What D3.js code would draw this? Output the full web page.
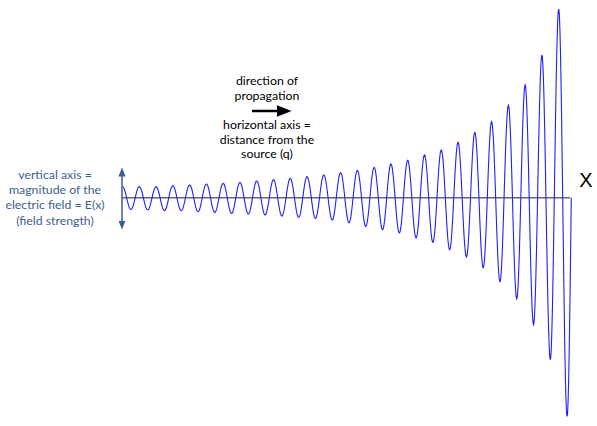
<!DOCTYPE html>
<html><head><meta charset="utf-8">
<script src="https://cdn.jsdelivr.net/npm/d3@7"></script>
<style>body{margin:0;background:#fff}</style></head>
<body><svg id="c" width="597" height="426"></svg>
<script>
// Extremum positions are in wave periods (peak k at t=k, trough k at t=k-0.5)
const peakT = d3.range(-1, 26);            // peaks t=-1..25
const peakAmp = [11,11,11,12,12.7,13.7,14.3,15.3,16.7,18,19.3,21,22.7,25,27.3,30.3,33.7,37.3,42.7,47.7,55.3,65.3,76,92.3,112.7,142.7,188.7];
const troughAmp = [11.7,12.3,13,13,14,14.7,15.7,16.3,17.3,18.3,19.7,20.7,22.3,25,28.7,32,35.3,40.3,44.7,52,59.3,70,84,101,127,162,218.7];
const texts = {
  left: ["vertical axis =","magnitude of the","electric field = E(x)","(field strength)"],
  mid1: ["direction of","propagation"],
  mid2: ["horizontal axis =","distance from the","source (q)"]
};
const svg = d3.select("#c");
const x = d3.scaleLinear().domain([0,25]).range([139.3,558.7]);
const y = d3.scaleLinear().domain([0,100]).range([197.7,97.7]);
const ext = [];
peakT.forEach((t,i)=>{ ext.push({t, v: peakAmp[i]}); if(i<troughAmp.length) ext.push({t:t+0.5, v:-troughAmp[i]}); });
const pts=[];
const tStart=-1.03;
for(let i=0;i<ext.length-1;i++){
  const a=ext[i], b=ext[i+1];
  for(let s=0;s<=20;s++){
    const f=s/20, t=a.t+(b.t-a.t)*f;
    if(t<tStart) continue;
    const w=(1-Math.cos(Math.PI*f))/2;
    pts.push([x(t),y(a.v*(1-w)+b.v*w)]);
  }
}
// final quarter: rise from last trough back to the axis
const last=ext[ext.length-1];
for(let s=1;s<=12;s++){const f=s/12; pts.push([x(last.t+0.25*f), y(last.v*Math.cos(Math.PI/2*f))]);}
svg.append("line").attr("x1",x(tStart)).attr("x2",570).attr("y1",y(0)).attr("y2",y(0)).attr("stroke","#666").attr("stroke-width",1.5);
svg.append("path").attr("d",d3.line()(pts)).attr("fill","none").attr("stroke","#1f1fff").attr("stroke-width",1.1);
const defs=svg.append("defs");
function mk(id,col){defs.append("marker").attr("id",id).attr("viewBox","0 0 10 10").attr("refX",5).attr("refY",5).attr("markerWidth",6).attr("markerHeight",6).attr("orient","auto-start-reverse").append("path").attr("d","M0,1L10,5L0,9Z").attr("fill",col);}
mk("ab","#3c5f90"); mk("ak","#000");
svg.append("line").attr("x1",122).attr("x2",122).attr("y1",172).attr("y2",225).attr("stroke","#3c5f90").attr("stroke-width",1.5).attr("marker-start","url(#ab)").attr("marker-end","url(#ab)");
svg.append("line").attr("x1",252).attr("x2",284).attr("y1",111).attr("y2",111).attr("stroke","#000").attr("stroke-width",2.5).attr("marker-end","url(#ak)");
function txt(lines,cx,ys,col){lines.forEach((s,i)=>svg.append("text").attr("x",cx).attr("y",ys[i]).attr("text-anchor","middle").attr("font-family","Lato, sans-serif").attr("font-size",12.3).attr("fill",col).text(s));}
txt(texts.left,55,[179,194,209,225],"#3c5f90");
txt(texts.mid1,267,[85,100],"#000");
txt(texts.mid2,267,[129,144,158],"#000");
svg.append("text").attr("x",586).attr("y",187).attr("text-anchor","middle").attr("font-family","Liberation Sans, sans-serif").attr("font-size",20).text("X");
</script></body></html>
